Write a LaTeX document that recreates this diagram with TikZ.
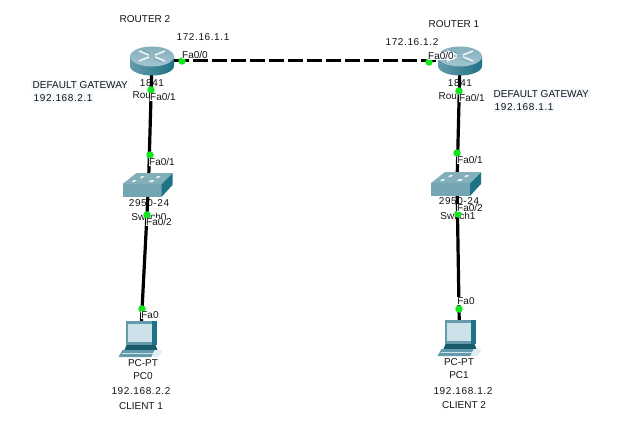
\documentclass[tikz,border=0pt]{standalone}
\usepackage{fontspec}
\setmainfont{Liberation Sans}
\newfontfamily\ipfont[LetterSpace=6]{Liberation Sans}
\definecolor{linkgreen}{RGB}{20,230,30}
\definecolor{labelgray}{RGB}{20,20,25}
\definecolor{notefill}{RGB}{245,248,252}
\definecolor{tealdark}{RGB}{30,115,135}
\definecolor{tealmid}{RGB}{100,155,170}
\definecolor{teallight}{RGB}{205,225,235}
\begin{document}
\begin{tikzpicture}[
	x=1pt,
	y=-1pt,
	device/.style={
		rectangle,
		inner sep=0pt,
		minimum width=44pt,
		minimum height=24pt
	},
	label/.style={
		inner sep=0.5pt,
		text=labelgray,
		font=\fontsize{10}{11}\selectfont
	},
	iplabel/.style={
		label,
		font=\fontsize{10}{11}\selectfont\ipfont
	},
	note/.style={
		label,
		fill=notefill,
		inner sep=1.5pt
	},
	ipnote/.style={
		iplabel,
		fill=notefill,
		inner sep=1.5pt
	},
	port/.style={
		label,
		fill=white,
		inner sep=0.5pt
	},
	portdot/.style={
		circle,
		fill=linkgreen,
		inner sep=0pt,
		minimum size=7.5pt
	},
	link/.style={
		line width=3.2pt,
		black
	},
	crosslink/.style={
		line width=3pt,
		black,
		dash pattern=on 15pt off 4pt
	},
	routericon/.pic={
		\shade[left color=tealmid, middle color=teallight!70!white, right color=tealdark] (-22,-4) -- (22,-4) -- (22,5) -- (-22,5) -- cycle;
		\shade[left color=tealmid, middle color=teallight!70!white, right color=tealdark] (0,5) ellipse (22 and 9.5);
		\shade[top color=tealmid!80!white, bottom color=teallight!60!tealmid] (0,-4.5) ellipse (22 and 10);
		\draw[white!90!tealmid, line width=1.6pt] (-13,-10) -- (-3,-6) (-13,0) -- (-3,-4) (13,-10) -- (3,-6) (13,0) -- (3,-4);
		\draw[tealdark!70!white, line width=0.6pt] (-9,-10) -- (-2,-7.5) (9,1) -- (2,-2.5);
	},
	switchicon/.pic={
		\fill[tealmid!90!white] (-26,-1) -- (13,-1) -- (13,12) -- (-26,12) -- cycle;
		\fill[tealdark] (13,-1) -- (24,-12) -- (24,0) -- (13,12) -- cycle;
		\fill[tealmid!80!white] (-12,-12) -- (24,-12) -- (13,-1) -- (-26,-1) -- cycle;
		\fill[white!85!tealmid] (-7,-9) -- (-4,-9) -- (-6,-7) -- (-9,-7) -- cycle;
		\fill[white!85!tealmid] (9,-9) -- (12,-9) -- (10,-7) -- (7,-7) -- cycle;
		\fill[white!85!tealmid] (-15,-5) -- (-12,-5) -- (-14,-3) -- (-17,-3) -- cycle;
		\fill[white!85!tealmid] (2,-5) -- (6,-5) -- (4,-3) -- (0,-3) -- cycle;
	},
	pcicon/.pic={
		\fill[tealmid] (-15,-18) -- (16,-18) -- (16,6) -- (-15,6) -- cycle;
		\fill[tealdark] (11,-18) -- (16,-18) -- (16,6) -- (11,6) -- cycle;
		\fill[teallight] (-13,-15) -- (11,-15) -- (11,3) -- (-13,3) -- cycle;
		\fill[tealdark!80!black] (-14,6) -- (15,6) -- (17,11) -- (-16,11) -- cycle;
		\fill[tealmid] (-18,11) -- (14,11) -- (11,18) -- (-22,18) -- cycle;
		\draw[teallight, line width=0.5pt] (-19,14) -- (12,14);
		\fill[teallight!60!white] (15,11) -- (22,11) -- (18,18) -- (11,18) -- cycle;
	},
]

\useasboundingbox (0,0) rectangle (622,444);

\node[device] (router2) at (152,61) {};
\node[device] (router1) at (460,61) {};
\node[device, minimum width=50pt] (switch0) at (148.5,185) {};
\node[device, minimum width=50pt] (switch1) at (457,184) {};
\node[device, minimum height=36pt] (pc0) at (140.5,339) {};
\node[device, minimum height=36pt] (pc1) at (459.5,338) {};

\node[iplabel] (model2) at (152,83) {1841};
\node[label, anchor=west] (name2) at (132,95) {Rou};
\node[iplabel] (model1) at (460,83) {1841};
\node[label, anchor=west] (name1) at (438,96) {Rou};
\node[iplabel] (modelsw0) at (149,203) {2950-24};
\node[label] (namesw0) at (149,217) {Switch0};
\node[iplabel] (modelsw1) at (459,201) {2950-24};
\node[label] (namesw1) at (458,216) {Switch1};

\draw[crosslink] (router2.east) -- (router1.west);
\draw[link] (router2.center) -- (switch0.center);
\draw[link] (router1.center) -- (switch1.center);
\draw[link] (switch0.center) -- (pc0.center);
\draw[link] (switch1.center) -- (pc1.center);

\pic at (router2.center) {routericon};
\pic at (router1.center) {routericon};
\pic at (switch0.center) {switchicon};
\pic at (switch1.center) {switchicon};
\pic at (pc0.center) {pcicon};
\pic at (pc1.center) {pcicon};

\node[portdot] (dot1) at (182,61) {};
\node[portdot] (dot2) at (151,90) {};
\node[portdot] (dot3) at (150,155) {};
\node[portdot] (dot4) at (147,215) {};
\node[portdot] (dot5) at (142,309) {};
\node[portdot] (dot6) at (429,62) {};
\node[portdot] (dot7) at (459,91) {};
\node[portdot] (dot8) at (457,153) {};
\node[portdot] (dot9) at (458,214) {};
\node[portdot] (dot10) at (459,309) {};

\node[port] (fa1) at (195,55) {Fa0/0};
\node[port] (fa2) at (163,97) {Fa0/1};
\node[port] (fa3) at (162,162) {Fa0/1};
\node[port] (fa4) at (159,222) {Fa0/2};
\node[port] (fa5) at (150,315) {Fa0};
\node[port] (fa6) at (441,56) {Fa0/0};
\node[port] (fa7) at (472,98) {Fa0/1};
\node[port] (fa8) at (470,160) {Fa0/1};
\node[port] (fa9) at (470,208) {Fa0/2};
\node[port] (fa10) at (466,301) {Fa0};

\node[label] (title2) at (145,19) {ROUTER 2};
\node[label] (title1) at (454,24) {ROUTER 1};
\node[iplabel] (wan2) at (203,37) {172.16.1.1};
\node[iplabel] (wan1) at (412,42) {172.16.1.2};

\node[note, anchor=west] (gwtitle2) at (31,85) {DEFAULT GATEWAY};
\node[ipnote, anchor=west] (gwaddr2) at (32,98) {192.168.2.1};
\node[note, anchor=west] (gwtitle1) at (492,94) {DEFAULT GATEWAY};
\node[ipnote, anchor=west] (gwaddr1) at (493,107) {192.168.1.1};

\node[label] (type0) at (143,363) {PC-PT};
\node[label] (host0) at (143,376) {PC0};
\node[iplabel] (addr0) at (141,391) {192.168.2.2};
\node[label] (client1) at (141,406) {CLIENT 1};

\node[label] (type1) at (459,362) {PC-PT};
\node[label] (host1) at (459,375) {PC1};
\node[iplabel] (addr1) at (463,391) {192.168.1.2};
\node[label] (client2) at (464,405) {CLIENT 2};

\end{tikzpicture}
\end{document}
